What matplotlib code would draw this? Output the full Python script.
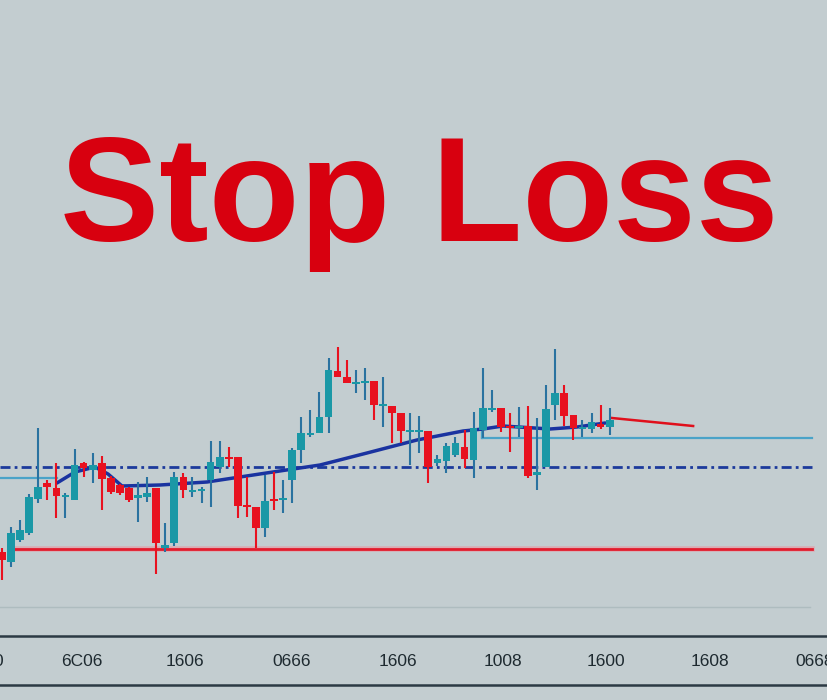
import matplotlib
matplotlib.use("Agg")
import matplotlib.pyplot as plt
import numpy as np

# candle data (index order), prices
opens = [98.5, 93.5, 104.5, 108, 125, 133, 130.5, 126, 124.5, 143,
         139.5, 143, 135.5, 132, 130.5, 125.5, 126, 130.5, 100.5, 103,
         136, 128.5, 129, 134.5, 141, 146, 146, 122, 121, 110.5,
         125, 124.5, 134.5, 149.5, 157, 158, 166, 189, 186, 182.5,
         183, 184, 171.5, 171.5, 168, 158.5, 158.5, 159, 143, 144,
         147, 151, 144.5, 159.5, 169.5, 170.5, 161.5, 160.5, 161.5, 137,
         141, 172, 178, 167, 160, 160, 162.5, 161]
highs = [100.5, 111, 114.5, 127.5, 160.5, 134.5, 143, 128, 150, 143.5,
         148, 146.5, 136.5, 132.5, 131, 133.5, 136, 130.5, 113, 138.5,
         138, 136, 131, 154, 154, 151, 146, 136, 121, 137,
         138.5, 134.5, 150.5, 166, 169.5, 178.5, 195.5, 201, 194.5, 189.5,
         190.5, 184, 186, 171.5, 168, 168, 166.5, 159, 147, 153,
         156, 159.5, 168.5, 190.5, 179.5, 170.5, 168, 171, 171.5, 165.5,
         182, 200, 182, 167, 164.5, 168, 172, 170.5]
lows = [84.5, 91, 103.5, 107, 123, 124.5, 115.5, 115.5, 124.5, 136,
        133, 119.5, 127.5, 127, 123.5, 113.5, 123.5, 87.5, 98.5, 101.5,
        125.5, 126, 123, 121, 138, 141, 115.5, 116, 100.5, 106,
        119.5, 118, 123, 143, 156, 158, 158, 186, 183, 178,
        174.5, 164.5, 161, 153, 153, 142, 148, 133, 141.5, 138,
        146, 140.5, 135.5, 155.5, 168.5, 158.5, 148.5, 156, 135.5, 129.5,
        141, 164.5, 161.5, 154.5, 156, 158, 160, 157]
closes = [94.5, 108, 109.5, 126, 131, 131, 126.5, 127, 142, 140.5,
          142, 135, 128.5, 128, 124.5, 127, 128, 103, 102, 136,
          129.5, 129.5, 130, 143.5, 146, 145, 121.5, 121, 110.5, 124,
          124, 125.5, 149.5, 158, 158, 166, 189.5, 186, 183, 183.5,
          184, 172, 172.5, 168, 159, 159.5, 159.5, 141, 145, 151.5,
          153, 145, 160.5, 170.5, 170.5, 161, 160.5, 161.5, 136.5, 138.5,
          170, 178, 166.5, 160.5, 161, 163.5, 161, 164.5]

# moving average line
ma_t = [6.06, 8.05, 10.25, 11.69, 13.23, 17.42, 22.6, 26.24, 29.88, 35.06,
        40.24, 45.75, 50.83, 53.03, 55.24, 60.42, 63.4, 66.5]
ma_p = [133, 138.5, 141, 137.5, 131.5, 132, 133.5, 136, 138.5, 142,
        148, 154.5, 159, 160, 161.5, 160, 161, 163]

stop_loss = 100
entry_level = 141
resistance = 155.5
old_support = 135.5
target_t = [67.25, 76.2]
target_p = [165.5, 161.5]
floor_level = 71

tick_pos = [-0.44, 8.82, 20.18, 31.97, 43.66, 55.24, 66.59, 78.06, 89.64]
tick_labels = ["0", "6C06", "1606", "0666", "1606", "1008", "1600", "1608", "0668"]

bg = "#c3cdd0"
up_col = "#1a98a6"
up_wick = "#2a72a0"
down_col = "#e8111f"

fig = plt.figure(figsize=(8.28, 7), dpi=100, facecolor=bg)
ax = fig.add_axes([0, 0, 1, 1])
ax.set_facecolor(bg)
ax.set_xlim(-0.22, 91.07)
ax.set_ylim(24.5, 374.5)
ax.axis("off")

# title
fig.text(0.507, 0.655, "Stop Loss", ha="center", va="baseline",
         fontsize=107, fontweight="bold", family="Liberation Sans", color="#d8000f")

# reference lines
ax.plot([-0.22, 89.3], [entry_level] * 2, color="#1c3a9c", lw=2,
        dashes=(3.6, 1.5, 1, 1.5), zorder=2)
ax.plot([52.9, 89.3], [resistance] * 2, color="#4aa3c8", lw=1.6, zorder=2)
ax.plot([52.9, 52.9], [160.5, resistance], color="#4aa3c8", lw=1.6, zorder=2)
ax.plot([-0.22, 6.06], [old_support] * 2, color="#4aa3c8", lw=1.6, zorder=2)
ax.plot([1.43, 89.3], [stop_loss] * 2, color="#f08a96", lw=4, alpha=0.5, zorder=2)
ax.plot([1.43, 89.3], [stop_loss] * 2, color="#e21b2c", lw=2, zorder=2)
ax.plot([-0.22, 89.1], [floor_level] * 2, color="#aebcbf", lw=1, zorder=1)
ax.plot(ma_t, ma_p, color="#1a33a0", lw=2.5, zorder=2, solid_capstyle="round")
ax.plot(target_t, target_p, color="#e0101c", lw=1.8, zorder=2)

# candles
t = np.arange(len(opens))
o = np.array(opens)
c = np.array(closes)
up = c >= o
cols = np.where(up, up_col, down_col)
wcols = np.where(up, up_wick, down_col)
ax.vlines(t, lows, highs, colors=wcols, lw=1.5, zorder=3)
body_h = np.maximum(np.abs(c - o), 0.9)
ax.bar(t, body_h, bottom=np.minimum(o, c), width=0.85, color=cols, zorder=4)

# bottom axis strip
ax.axhline(56.5, color="#2c3a44", lw=1.8)
ax.axhline(32, color="#2c3a44", lw=1.8)
for x, lab in zip(tick_pos, tick_labels):
    ax.text(x, 43.5, lab, ha="center", va="center", fontsize=12.5,
            family="Liberation Sans", color="#1e2a30")

fig.savefig("out.png", dpi=100, facecolor=bg)
